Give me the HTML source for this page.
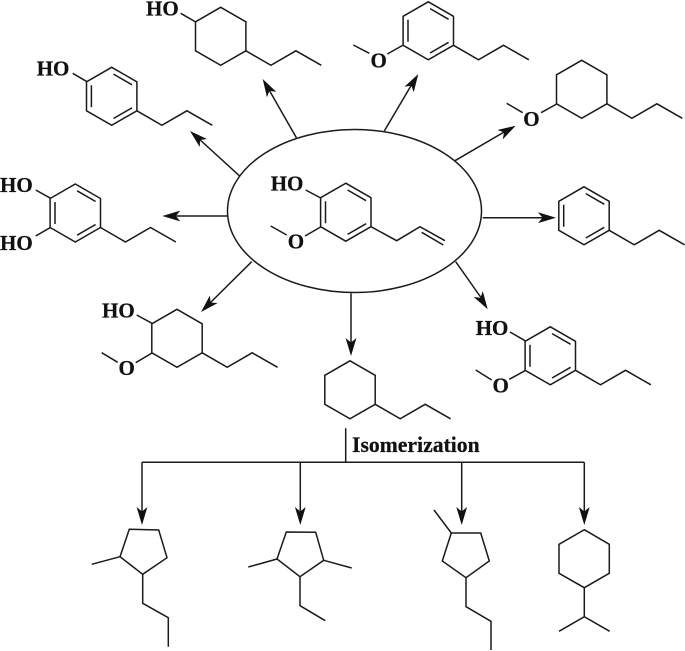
<!DOCTYPE html>
<html>
<head>
<meta charset="utf-8">
<style>
html,body{margin:0;padding:0;background:#fff;width:685px;height:651px;overflow:hidden}
svg{display:block}
text{font-family:"Liberation Serif",serif;font-weight:bold;font-size:21px;fill:#111;stroke:#111;stroke-width:.25}
.b{fill:none;stroke:#1a1a1a;stroke-width:1.5;stroke-linejoin:miter;stroke-linecap:butt}
</style>
</head>
<body>
<svg width="685" height="651" viewBox="0 0 685 651" xmlns="http://www.w3.org/2000/svg">
<defs>
<polygon id="ring" class="b" points="0,-29 25.2,-14.5 25.2,14.5 0,29 -25.2,14.5 -25.2,-14.5"/>
<path id="dbl" class="b" d="M-20.3,-11V11M1.8,-22.2L20.3,-11.5M1.8,22.2L20.3,11.5"/>
<polyline id="chain" class="b" points="25.2,14.5 50.2,29 75.2,14.5 100.6,29"/>
<polygon id="ah" fill="#111" points="0,0 -18,5.4 -13.5,0 -18,-5.4"/>
</defs>

<!-- central ellipse -->
<ellipse cx="354.5" cy="211" rx="127" ry="81.5" class="b"/>

<!-- eugenol -->
<g transform="translate(345.8,212.2)"><use href="#ring"/><use href="#dbl"/></g>
<path class="b" d="M371,226.7L396.7,240.7L420,226.7L445,240.7M421.7,232.3L443.3,245M320.7,198L305.7,190M320.7,227L305,236M270.7,226L286.7,235"/>
<text x="270.7" y="190.7">HO</text>
<text x="287.7" y="248.3">O</text>

<!-- A -->
<g transform="translate(220.7,36.3)"><use href="#ring"/><use href="#chain"/></g>
<path class="b" d="M195.7,22L180.7,13.3"/>
<text x="146" y="15.7">HO</text>

<!-- B -->
<g transform="translate(111.7,96.3)"><use href="#ring"/><use href="#dbl"/><use href="#chain"/></g>
<path class="b" d="M87,81.7L72.7,73.3"/>
<text x="36.7" y="75.7">HO</text>

<!-- C -->
<g transform="translate(75.3,213)"><use href="#ring"/><use href="#dbl"/><use href="#chain"/></g>
<path class="b" d="M50.7,198.3L35.7,190M50.7,227.3L35.7,236"/>
<text x="0" y="192">HO</text>
<text x="0" y="250">HO</text>

<!-- D -->
<g transform="translate(428.3,30.8)"><use href="#ring"/><use href="#dbl"/><use href="#chain"/></g>
<path class="b" d="M403.3,45L387.3,54M353.3,45L369.3,53.3"/>
<text x="370.5" y="67.7">O</text>

<!-- E -->
<g transform="translate(581.7,89.3)"><use href="#ring"/><use href="#chain"/></g>
<path class="b" d="M556.7,104L541,112.7M506.7,103.3L522.7,112.7"/>
<text x="523.3" y="126">O</text>

<!-- F -->
<g transform="translate(584,215.8)"><use href="#ring"/><use href="#dbl"/><use href="#chain"/></g>

<!-- G -->
<g transform="translate(177,338.3)"><use href="#ring"/><use href="#chain"/></g>
<path class="b" d="M152,323.3L136.7,315M152,353L135.7,362.7M101.7,352.7L117.7,362.3"/>
<text x="102" y="317.7">HO</text>
<text x="118.5" y="375">O</text>

<!-- H -->
<g transform="translate(350,389.8)"><use href="#ring"/><use href="#chain"/></g>

<!-- I -->
<g transform="translate(550.3,355.8)"><use href="#ring"/><use href="#dbl"/><use href="#chain"/></g>
<path class="b" d="M525,340.7L510,332M525,370.7L509.3,379.3M475.7,370L491.7,380"/>
<text x="475.7" y="335">HO</text>
<text x="492.5" y="392.7">O</text>

<!-- radial arrows -->
<path class="b" d="M296.7,138.3L268,88M239.3,175.7L198,138M227.3,216H174M384.3,131L412,84M455,160.7L505,131.5M482.7,217.7H545M251.7,261.7L209,304M351,293.3V344M455.7,261.7L482,299"/>
<use href="#ah" transform="translate(262.7,79) rotate(-119.8)"/>
<use href="#ah" transform="translate(190,131) rotate(-138)"/>
<use href="#ah" transform="translate(162.3,216) rotate(180)"/>
<use href="#ah" transform="translate(418.3,74) rotate(-59.2)"/>
<use href="#ah" transform="translate(515.7,125.7) rotate(-29.9)"/>
<use href="#ah" transform="translate(556,217.7)"/>
<use href="#ah" transform="translate(201,312) rotate(135)"/>
<use href="#ah" transform="translate(351,356) rotate(90)"/>
<use href="#ah" transform="translate(487.7,309.3) rotate(58)"/>

<!-- isomerization bracket -->
<path class="b" d="M345.7,428.3V462.3M142,462.3H584.3M142,462.3V512M300.3,462.3V512M461.7,462.3V512M584.3,462.3V512"/>
<use href="#ah" transform="translate(142,525) rotate(90)"/>
<use href="#ah" transform="translate(300.3,525) rotate(90)"/>
<use href="#ah" transform="translate(461.7,525) rotate(90)"/>
<use href="#ah" transform="translate(584.3,525) rotate(90)"/>
<text x="352" y="452" style="font-size:21.7px">Isomerization</text>

<!-- bottom molecules -->
<polygon class="b" points="129.3,529.3 158.7,530 167,557.7 142.7,574.3 120,556.7"/>
<path class="b" d="M120,556.7L91.7,564.3M142.7,574.3V603.3L168.3,617.7V646.7"/>

<polygon class="b" points="286.3,532 315.7,532.3 323.7,560.3 300,576.7 277,559"/>
<path class="b" d="M277,559L248.3,567M323.7,560.3L351.7,568M300,576.7V605.7L325.3,620.7"/>

<polygon class="b" points="451.3,533 480.7,533 489.3,561 466,577.7 442.3,561"/>
<path class="b" d="M451.3,533L434,510M466,577.7V606.7L491,621.3V650"/>

<polygon class="b" points="584.3,529.7 609.3,544.3 609.3,573.3 584.3,587.7 559,573.3 559,544.3"/>
<path class="b" d="M584.3,587.7V616.7M559,631.3L584.3,616.7L609.7,631.3"/>
</svg>
</body>
</html>
